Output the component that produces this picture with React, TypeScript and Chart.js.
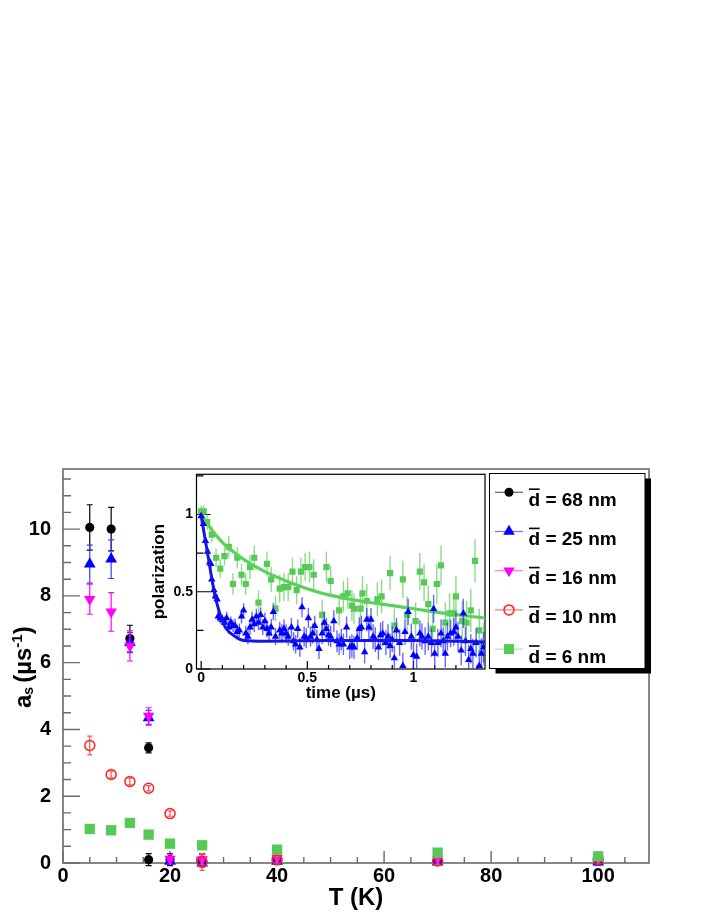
import { useEffect, useRef } from "react";
import { Chart, registerables } from "chart.js";

Chart.register(...registerables);

const FONT = "'Liberation Sans', Arial, Helvetica, sans-serif";

// ---------------- main plot data ----------------
const tempK = [5, 9, 12.5, 16, 20, 26, 40, 70, 100];
const black68T = [5, 9, 12.5, 16, 16, 20, 26, 40, 70, 100];
const black68 = [10.05, 10.0, 6.72, 3.45, 0.1, 0.1, 0.08, 0.12, 0.08, 0.12];
const black68Err = [0.68, 0.65, 0.4, 0.15, 0.18, 0.18, 0.2, 0.1, 0.1, 0.1];
const blue25 = [8.95, 9.1, 6.6, 4.35, 0.05, 0.0, 0.05, 0.03, 0.03];
const blue25Err = [0.57, 0.58, 0.3, 0.22, 0.1, 0.1, 0.1, 0.1, 0.1];
const mag16 = [7.9, 7.52, 6.5, 4.4, 0.12, 0.1, 0.15, 0.12, 0.12];
const mag16Err = [0.45, 0.58, 0.45, 0.25, 0.15, 0.15, 0.15, 0.15, 0.15];
const red10 = [3.52, 2.65, 2.44, 2.24, 1.48, 0.03, 0.1, 0.06, 0.1];
const red10Err = [0.28, 0.1, 0.1, 0.08, 0.08, 0.25, 0.1, 0.1, 0.1];
const green6 = [1.02, 0.98, 1.2, 0.85, 0.58, 0.53, 0.4, 0.31, 0.2];
const green6Err = [0.04, 0.04, 0.04, 0.04, 0.04, 0.04, 0.04, 0.04, 0.04];

const legendLabels = ["68 nm", "25 nm", "16 nm", "10 nm", "6 nm"];
const mainXTicks = [0, 20, 40, 60, 80, 100];
const mainYTicks = [0, 2, 4, 6, 8, 10];

// ---------------- inset data: [time, polarization, error] ----------------
const greenInset: number[][] = [
  [0.0, 1.02, 0.04], [0.012, 1.02, 0.04], [0.028, 0.95, 0.05], [0.05, 0.87, 0.05],
  [0.07, 0.72, 0.06], [0.09, 0.65, 0.06], [0.11, 0.73, 0.06], [0.13, 0.79, 0.07],
  [0.15, 0.55, 0.07], [0.17, 0.72, 0.07], [0.19, 0.61, 0.07], [0.21, 0.55, 0.07],
  [0.23, 0.66, 0.08], [0.25, 0.72, 0.08], [0.27, 0.43, 0.08], [0.31, 0.68, 0.08],
  [0.33, 0.58, 0.08], [0.35, 0.39, 0.08], [0.37, 0.52, 0.09], [0.39, 0.53, 0.09],
  [0.41, 0.53, 0.09], [0.43, 0.63, 0.09], [0.45, 0.51, 0.09], [0.47, 0.63, 0.09],
  [0.49, 0.66, 0.09], [0.51, 0.66, 0.1], [0.53, 0.61, 0.1], [0.57, 0.35, 0.1],
  [0.59, 0.66, 0.1], [0.61, 0.57, 0.1], [0.65, 0.38, 0.1], [0.67, 0.47, 0.1],
  [0.69, 0.49, 0.1], [0.71, 0.41, 0.1], [0.72, 0.39, 0.1], [0.75, 0.39, 0.11],
  [0.76, 0.49, 0.11], [0.78, 0.44, 0.11], [0.83, 0.45, 0.11], [0.85, 0.47, 0.11],
  [0.89, 0.62, 0.11], [0.91, 0.28, 0.11], [0.95, 0.58, 0.12], [0.97, 0.35, 0.12],
  [1.01, 0.31, 0.12], [1.03, 0.63, 0.12], [1.05, 0.56, 0.12], [1.07, 0.42, 0.12],
  [1.09, 0.26, 0.12], [1.11, 0.55, 0.13], [1.13, 0.67, 0.13], [1.15, 0.3, 0.13],
  [1.17, 0.36, 0.13], [1.19, 0.36, 0.13], [1.2, 0.47, 0.13], [1.23, 0.31, 0.13],
  [1.25, 0.3, 0.14], [1.27, 0.38, 0.14], [1.29, 0.7, 0.14], [1.31, 0.25, 0.14],
  [1.33, 0.16, 0.14],
];

const blueInset: number[][] = [
  [0.0, 0.99, 0.02], [0.01, 0.94, 0.02], [0.02, 0.83, 0.025], [0.03, 0.76, 0.025],
  [0.04, 0.69, 0.03], [0.045, 0.68, 0.03], [0.05, 0.58, 0.03], [0.06, 0.51, 0.03],
  [0.067, 0.47, 0.03], [0.075, 0.45, 0.035], [0.08, 0.34, 0.035], [0.09, 0.33, 0.035],
  [0.1, 0.32, 0.035], [0.11, 0.3, 0.04], [0.12, 0.33, 0.04], [0.13, 0.27, 0.04],
  [0.14, 0.3, 0.04], [0.15, 0.28, 0.04], [0.16, 0.28, 0.045], [0.17, 0.24, 0.045],
  [0.18, 0.25, 0.045], [0.19, 0.34, 0.045], [0.2, 0.38, 0.045], [0.21, 0.23, 0.05],
  [0.22, 0.21, 0.05], [0.23, 0.27, 0.05], [0.24, 0.32, 0.05], [0.25, 0.29, 0.05],
  [0.26, 0.34, 0.05], [0.27, 0.3, 0.05], [0.28, 0.35, 0.05], [0.29, 0.27, 0.05],
  [0.3, 0.31, 0.055], [0.31, 0.26, 0.055], [0.32, 0.23, 0.055], [0.33, 0.27, 0.055],
  [0.34, 0.37, 0.055], [0.35, 0.21, 0.055], [0.37, 0.25, 0.055], [0.38, 0.23, 0.06],
  [0.39, 0.26, 0.06], [0.4, 0.23, 0.06], [0.41, 0.21, 0.06], [0.425, 0.27, 0.06],
  [0.435, 0.18, 0.06], [0.445, 0.16, 0.06], [0.455, 0.26, 0.06], [0.465, 0.14, 0.06],
  [0.475, 0.4, 0.065], [0.485, 0.21, 0.065], [0.495, 0.2, 0.065], [0.505, 0.33, 0.065],
  [0.515, 0.21, 0.065], [0.525, 0.23, 0.065], [0.535, 0.28, 0.065], [0.545, 0.19, 0.065],
  [0.555, 0.13, 0.065], [0.57, 0.23, 0.07], [0.58, 0.3, 0.07], [0.59, 0.26, 0.07],
  [0.6, 0.22, 0.07], [0.61, 0.21, 0.07], [0.625, 0.31, 0.07], [0.64, 0.18, 0.07],
  [0.65, 0.16, 0.07], [0.66, 0.19, 0.07], [0.67, 0.16, 0.07], [0.685, 0.27, 0.07],
  [0.7, 0.14, 0.075], [0.71, 0.15, 0.075], [0.72, 0.14, 0.075], [0.735, 0.2, 0.075],
  [0.745, 0.26, 0.075], [0.755, 0.27, 0.075], [0.77, 0.11, 0.075], [0.78, 0.32, 0.075],
  [0.79, 0.27, 0.075], [0.8, 0.32, 0.075], [0.81, 0.21, 0.08], [0.82, 0.19, 0.08],
  [0.835, 0.14, 0.08], [0.845, 0.22, 0.08], [0.855, 0.23, 0.08], [0.87, 0.17, 0.08],
  [0.88, 0.21, 0.08], [0.89, 0.15, 0.08], [0.9, 0.19, 0.08], [0.91, 0.07, 0.08],
  [0.92, 0.25, 0.08], [0.935, 0.17, 0.085], [0.95, 0.02, 0.085], [0.96, 0.24, 0.085],
  [0.975, 0.37, 0.085], [0.99, 0.21, 0.085], [1.0, 0.09, 0.085], [1.015, 0.08, 0.085],
  [1.03, 0.23, 0.085], [1.04, 0.21, 0.085], [1.055, 0.18, 0.09], [1.07, 0.21, 0.09],
  [1.085, 0.17, 0.09], [1.095, 0.39, 0.09], [1.1, 0.1, 0.09], [1.115, 0.17, 0.09],
  [1.13, 0.23, 0.09], [1.14, 0.18, 0.09], [1.15, 0.1, 0.09], [1.16, 0.21, 0.09],
  [1.175, 0.23, 0.09], [1.19, 0.24, 0.09], [1.2, 0.27, 0.095], [1.21, 0.21, 0.095],
  [1.225, 0.12, 0.095], [1.235, 0.36, 0.095], [1.245, 0.18, 0.095], [1.26, 0.06, 0.095],
  [1.27, 0.13, 0.095], [1.28, 0.1, 0.095], [1.295, 0.17, 0.095], [1.31, 0.02, 0.1],
  [1.32, 0.1, 0.1], [1.33, 0.14, 0.1],
];

const greenFitT = [0, 0.05, 0.1, 0.15, 0.2, 0.3, 0.4, 0.5, 0.6, 0.75, 0.9, 1.0, 1.15, 1.337];
const greenFit = [1.0, 0.9, 0.82, 0.76, 0.71, 0.63, 0.57, 0.52, 0.48, 0.44, 0.41, 0.39, 0.36, 0.33];
const blueFitT = [0, 0.03, 0.06, 0.083, 0.114, 0.16, 0.2, 0.3, 0.6, 1.0, 1.337];
const blueFit = [0.99, 0.75, 0.51, 0.38, 0.27, 0.21, 0.185, 0.18, 0.185, 0.185, 0.175];
const insetXTicks = [0, 0.5, 1];
const insetYTicks = [0, 0.5, 1];

// ---------------- colours ----------------
const C_BLACK = "#000000";
const C_BLUE = "#0000ff";
const C_MAG = "#ff00ff";
const C_RED = "#ff2020";
const C_GREEN = "#57c957";

type MarkerKind = "circle" | "triangle" | "triangleDown" | "openCircle" | "square";

function drawMarker(ctx: CanvasRenderingContext2D, kind: MarkerKind, x: number, y: number, r: number, color: string) {
  ctx.save();
  ctx.fillStyle = color;
  ctx.strokeStyle = color;
  ctx.beginPath();
  if (kind === "circle") {
    ctx.arc(x, y, r, 0, Math.PI * 2);
    ctx.fill();
  } else if (kind === "openCircle") {
    ctx.lineWidth = 1.5;
    ctx.arc(x, y, r, 0, Math.PI * 2);
    ctx.stroke();
  } else if (kind === "triangle") {
    ctx.moveTo(x, y - r);
    ctx.lineTo(x + r * 0.866, y + r * 0.5);
    ctx.lineTo(x - r * 0.866, y + r * 0.5);
    ctx.closePath();
    ctx.fill();
  } else if (kind === "triangleDown") {
    ctx.moveTo(x, y + r);
    ctx.lineTo(x + r * 0.866, y - r * 0.5);
    ctx.lineTo(x - r * 0.866, y - r * 0.5);
    ctx.closePath();
    ctx.fill();
  } else {
    const s = r * 0.7071;
    ctx.rect(x - s, y - s, 2 * s, 2 * s);
    ctx.fill();
  }
  ctx.restore();
}

const errorBarPlugin = {
  id: "errorBars",
  beforeDatasetDraw(chart: any, args: any) {
    const ds = chart.data.datasets[args.index];
    if (!ds.errs) return;
    const { ctx } = chart;
    const xs = chart.scales.x;
    const ys = chart.scales.y;
    const area = chart.chartArea;
    ctx.save();
    if (ds.errClip) {
      ctx.beginPath();
      ctx.rect(area.left, area.top, area.right - area.left, area.bottom - area.top);
      ctx.clip();
    }
    ctx.strokeStyle = ds.errColor;
    ctx.lineWidth = ds.errWidth || 1;
    ds.data.forEach((p: any, i: number) => {
      const e = ds.errs[i];
      if (!e) return;
      const px = xs.getPixelForValue(p.x);
      const y1 = ys.getPixelForValue(p.y - e);
      const y2 = ys.getPixelForValue(p.y + e);
      ctx.beginPath();
      ctx.moveTo(px, y1);
      ctx.lineTo(px, y2);
      if (ds.errCap) {
        ctx.moveTo(px - ds.errCap, y1);
        ctx.lineTo(px + ds.errCap, y1);
        ctx.moveTo(px - ds.errCap, y2);
        ctx.lineTo(px + ds.errCap, y2);
      }
      ctx.stroke();
    });
    ctx.restore();
  },
};

function drawTicks(
  ctx: CanvasRenderingContext2D,
  chart: any,
  xMajor: number, xMinor: number, xMajLen: number, xMinLen: number,
  yMajor: number, yMinor: number, yMajLen: number, yMinLen: number,
) {
  const xs = chart.scales.x;
  const ys = chart.scales.y;
  const { left, right, top, bottom } = chart.chartArea;
  ctx.beginPath();
  const xStart = Math.ceil(xs.min / xMinor - 1e-9) * xMinor;
  for (let v = xStart; v <= xs.max + 1e-9; v += xMinor) {
    const isMaj = Math.abs(v / xMajor - Math.round(v / xMajor)) < 1e-6;
    const px = xs.getPixelForValue(v);
    if (px < left - 0.5 || px > right + 0.5) continue;
    ctx.moveTo(px, bottom);
    ctx.lineTo(px, bottom - (isMaj ? xMajLen : xMinLen));
  }
  const yStart = Math.ceil(ys.min / yMinor - 1e-9) * yMinor;
  for (let v = yStart; v <= ys.max + 1e-9; v += yMinor) {
    const isMaj = Math.abs(v / yMajor - Math.round(v / yMajor)) < 1e-6;
    const py = ys.getPixelForValue(v);
    if (py < top - 0.5 || py > bottom + 0.5) continue;
    ctx.moveTo(left, py);
    ctx.lineTo(left + (isMaj ? yMajLen : yMinLen), py);
  }
  ctx.stroke();
}

const mainDecorPlugin = {
  id: "mainDecor",
  beforeDatasetsDraw(chart: any) {
    const { ctx } = chart;
    const { left, right, top, bottom } = chart.chartArea;
    ctx.save();
    ctx.strokeStyle = "#6a6a6a";
    ctx.lineWidth = 1.6;
    ctx.strokeRect(left, top, right - left, bottom - top);
    ctx.lineWidth = 1.4;
    drawTicks(ctx, chart, 20, 5, 12, 6, 2, 0.5, 17, 8);
    ctx.restore();
  },
  afterDraw(chart: any) {
    const { ctx } = chart;
    ctx.save();
    // y-axis title: a_s (µs^-1)
    ctx.translate(31, 708);
    ctx.rotate(-Math.PI / 2);
    ctx.fillStyle = "#000";
    ctx.textBaseline = "alphabetic";
    ctx.textAlign = "left";
    let x = 0;
    ctx.font = `bold 24px ${FONT}`;
    ctx.fillText("a", x, 0);
    x += ctx.measureText("a").width;
    ctx.font = `bold 14px ${FONT}`;
    ctx.fillText("s", x, 2);
    x += ctx.measureText("s").width + 4;
    ctx.font = `bold 24px ${FONT}`;
    ctx.fillText("(\u00b5s", x, 0);
    x += ctx.measureText("(\u00b5s").width;
    ctx.font = `bold 15px ${FONT}`;
    ctx.fillText("-1", x, -9);
    x += ctx.measureText("-1").width;
    ctx.font = `bold 24px ${FONT}`;
    ctx.fillText(")", x, 0);
    ctx.restore();

    // legend box
    ctx.save();
    const bx = 489.5, by = 473.5, bw = 155.5, bh = 195;
    ctx.fillStyle = "#000";
    ctx.fillRect(bx + 6, by + 5, bw, bh);
    ctx.fillStyle = "#fff";
    ctx.fillRect(bx, by, bw, bh);
    ctx.strokeStyle = "#000";
    ctx.lineWidth = 1;
    ctx.strokeRect(bx, by, bw, bh);
    const kinds: MarkerKind[] = ["circle", "triangle", "triangleDown", "openCircle", "square"];
    const cols = [C_BLACK, C_BLUE, C_MAG, C_RED, C_GREEN];
    const lineCols = ["#606060", "#7070ff", "#ff70ff", "#ff7070", "#a8e4a8"];
    const sizes = [4.5, 6.7, 6.5, 5, 7.07];
    legendLabels.forEach((lab, i) => {
      const cy = 492.3 + i * 39.2;
      ctx.strokeStyle = lineCols[i];
      ctx.lineWidth = 1.2;
      ctx.beginPath();
      ctx.moveTo(495, cy);
      ctx.lineTo(523, cy);
      ctx.stroke();
      drawMarker(ctx, kinds[i], 509, cy, sizes[i], cols[i]);
      ctx.font = `bold 19px ${FONT}`;
      ctx.fillStyle = "#000";
      ctx.textAlign = "left";
      ctx.textBaseline = "alphabetic";
      const tx = 528.5, ty = cy + 13.4;
      ctx.fillText("d = " + lab, tx, ty);
      const dw = ctx.measureText("d").width;
      ctx.strokeStyle = "#000";
      ctx.lineWidth = 1.6;
      ctx.beginPath();
      ctx.moveTo(tx + 0.5, ty - 16.5);
      ctx.lineTo(tx + dw - 0.5, ty - 16.5);
      ctx.stroke();
    });
    ctx.restore();
  },
};

const insetDecorPlugin = {
  id: "insetDecor",
  beforeDatasetsDraw(chart: any) {
    const { ctx } = chart;
    const { left, right, top, bottom } = chart.chartArea;
    ctx.save();
    ctx.fillStyle = "#fff";
    ctx.fillRect(left, top, right - left, bottom - top);
    ctx.strokeStyle = "#000";
    ctx.lineWidth = 1.2;
    ctx.strokeRect(left, top, right - left, bottom - top);
    ctx.lineWidth = 1.2;
    drawTicks(ctx, chart, 0.5, 0.1, 8, 4, 0.5, 0.25, 14, 7);
    ctx.restore();
  },
};

function mkPts(xs: number[], ys: number[]) {
  return ys.map((v, i) => ({ x: xs[i], y: v }));
}

export default function App() {
  const mainRef = useRef<HTMLCanvasElement>(null);
  const insetRef = useRef<HTMLCanvasElement>(null);

  useEffect(() => {
    if (!mainRef.current || !insetRef.current) return;
    const mainChart = new Chart(mainRef.current, {
      type: "scatter",
      data: {
        datasets: [
          {
            label: "d = 68 nm", data: mkPts(black68T, black68), order: 5,
            pointStyle: "circle", pointRadius: 4.6, pointBackgroundColor: C_BLACK, pointBorderColor: C_BLACK, pointBorderWidth: 0,
            errs: black68Err, errColor: C_BLACK, errWidth: 1.2, errCap: 3, clip: false,
          } as any,
          {
            label: "d = 25 nm", data: mkPts(tempK, blue25), order: 4,
            pointStyle: "triangle", pointRadius: 6.8, pointBackgroundColor: C_BLUE, pointBorderColor: C_BLUE, pointBorderWidth: 0,
            errs: blue25Err, errColor: "#3c3cff", errWidth: 1.2, errCap: 3, clip: false,
          } as any,
          {
            label: "d = 16 nm", data: mkPts(tempK, mag16), order: 3,
            pointStyle: "triangle", pointRotation: 180, pointRadius: 6.6, pointBackgroundColor: C_MAG, pointBorderColor: C_MAG, pointBorderWidth: 0,
            errs: mag16Err, errColor: C_MAG, errWidth: 1.2, errCap: 3, clip: false,
          } as any,
          {
            label: "d = 10 nm", data: mkPts(tempK, red10), order: 2,
            pointStyle: "circle", pointRadius: 5, pointBackgroundColor: "rgba(0,0,0,0)", pointBorderColor: C_RED, pointBorderWidth: 1.5,
            errs: red10Err, errColor: "#ff5050", errWidth: 1.2, errCap: 2.5, clip: false,
          } as any,
          {
            label: "d = 6 nm", data: mkPts(tempK, green6), order: 1,
            pointStyle: "rect", pointRadius: 7.3, pointBackgroundColor: C_GREEN, pointBorderColor: C_GREEN, pointBorderWidth: 0,
            errs: green6Err, errColor: C_GREEN, errWidth: 1, clip: false,
          } as any,
        ],
      },
      options: {
        animation: false,
        responsive: false,
        events: [],
        layout: { padding: { left: 0, top: 469, right: 57, bottom: 0 } },
        plugins: { legend: { display: false }, tooltip: { enabled: false }, title: { display: false } },
        scales: {
          x: {
            type: "linear", min: 0, max: 109.5,
            grid: { display: false, drawTicks: false }, border: { display: false },
            afterBuildTicks: (s: any) => { s.ticks = mainXTicks.map((v) => ({ value: v })); },
            afterFit: (s: any) => { s.height = 50; },
            ticks: { color: "#000", font: { family: FONT, size: 20, weight: "bold" }, padding: 1, maxRotation: 0, callback: (v: any) => String(v) },
            title: { display: true, text: "T (K)", color: "#000", font: { family: FONT, size: 24, weight: "bold" }, padding: { top: 0, bottom: 0 } },
          },
          y: {
            type: "linear", min: 0, max: 11.8,
            grid: { display: false, drawTicks: false }, border: { display: false },
            afterBuildTicks: (s: any) => { s.ticks = mainYTicks.map((v) => ({ value: v })); },
            afterFit: (s: any) => { s.width = 63; },
            ticks: { color: "#000", font: { family: FONT, size: 20, weight: "bold" }, padding: 12, callback: (v: any) => String(v) },
          },
        },
      } as any,
      plugins: [errorBarPlugin, mainDecorPlugin],
    });

    const insetChart = new Chart(insetRef.current, {
      type: "scatter",
      data: {
        datasets: [
          {
            label: "blue fit", type: "line", data: mkPts(blueFitT, blueFit), order: 1,
            borderColor: "#1515e6", borderWidth: 3, pointRadius: 0, showLine: true, fill: false, cubicInterpolationMode: "monotone",
          } as any,
          {
            label: "blue data", data: blueInset.map((p) => ({ x: p[0], y: p[1] })), order: 2,
            pointStyle: "triangle", pointRadius: 4.3, pointBackgroundColor: C_BLUE, pointBorderWidth: 0,
            errs: blueInset.map((p) => p[2]), errColor: "rgba(40,40,255,0.7)", errWidth: 1.4, errClip: true,
          } as any,
          {
            label: "green fit", type: "line", data: mkPts(greenFitT, greenFit), order: 3,
            borderColor: "#5ad25a", borderWidth: 3.2, pointRadius: 0, showLine: true, fill: false, cubicInterpolationMode: "monotone",
          } as any,
          {
            label: "green data", data: greenInset.map((p) => ({ x: p[0], y: p[1] })), order: 4,
            pointStyle: "rect", pointRadius: 4.4, pointBackgroundColor: C_GREEN, pointBorderWidth: 0,
            errs: greenInset.map((p) => p[2]), errColor: "rgba(110,210,110,0.8)", errWidth: 1.4, errClip: true,
          } as any,
        ],
      },
      options: {
        animation: false,
        responsive: false,
        events: [],
        layout: { padding: { left: 0, top: 14.3, right: 10, bottom: 0 } },
        plugins: { legend: { display: false }, tooltip: { enabled: false }, title: { display: false } },
        scales: {
          x: {
            type: "linear", min: -0.022, max: 1.337,
            grid: { display: false, drawTicks: false }, border: { display: false },
            afterBuildTicks: (s: any) => { s.ticks = insetXTicks.map((v) => ({ value: v })); },
            afterFit: (s: any) => { s.height = 37; },
            ticks: { color: "#000", font: { family: FONT, size: 14, weight: "bold" }, padding: 1, maxRotation: 0, callback: (v: any) => String(v) },
            title: { display: true, text: "time (\u00b5s)", color: "#000", font: { family: FONT, size: 17, weight: "bold" }, padding: { top: 0, bottom: 2.5 } },
          },
          y: {
            type: "linear", min: 0, max: 1.26,
            grid: { display: false, drawTicks: false }, border: { display: false },
            afterBuildTicks: (s: any) => { s.ticks = insetYTicks.map((v) => ({ value: v })); },
            afterFit: (s: any) => { s.width = 56.5; },
            ticks: { color: "#000", font: { family: FONT, size: 14, weight: "bold" }, padding: 3.5, callback: (v: any) => String(v) },
            title: { display: true, text: "polarization", color: "#000", font: { family: FONT, size: 17, weight: "bold" }, padding: { top: 9.3, bottom: 0 } },
          },
        },
      } as any,
      plugins: [errorBarPlugin, insetDecorPlugin],
    });

    return () => {
      mainChart.destroy();
      insetChart.destroy();
    };
  }, []);

  return (
    <div style={{ position: "absolute", left: 0, top: 0, width: 706, height: 913, background: "#fff" }}>
      <canvas ref={mainRef} width={706} height={913} style={{ position: "absolute", left: 0, top: 0 }} />
      <canvas ref={insetRef} width={355} height={246} style={{ position: "absolute", left: 140, top: 460 }} />
    </div>
  );
}
